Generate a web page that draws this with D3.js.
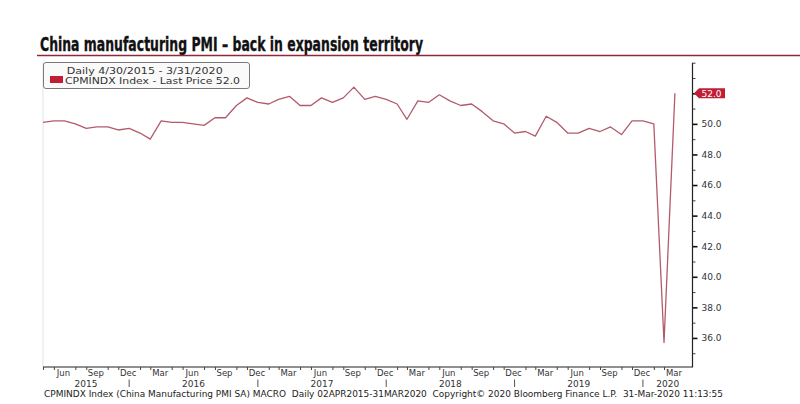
<!DOCTYPE html>
<html>
<head>
<meta charset="utf-8">
<script src="https://cdn.jsdelivr.net/npm/d3@7"></script>
<style>
  html, body { margin: 0; padding: 0; background: #ffffff; }
  svg { display: block; }
</style>
</head>
<body>
<script>
// ---------------- DATA ----------------
const title = "China manufacturing PMI \u2013 back in expansion territory";
const legendRange = "Daily 4/30/2015 - 3/31/2020";
const seriesName = "CPMINDX Index - Last Price 52.0";
const lastPriceLabel = "52.0";
const footerText = "CPMINDX Index (China Manufacturing PMI SA) MACRO  Daily 02APR2015-31MAR2020  Copyright\u00A9 2020 Bloomberg Finance L.P.  31-Mar-2020 11:13:55";

const dates = [
  "2015-04-30","2015-05-31","2015-06-30","2015-07-31","2015-08-31","2015-09-30","2015-10-31","2015-11-30","2015-12-31",
  "2016-01-31","2016-02-29","2016-03-31","2016-04-30","2016-05-31","2016-06-30","2016-07-31","2016-08-31","2016-09-30","2016-10-31","2016-11-30","2016-12-31",
  "2017-01-31","2017-02-28","2017-03-31","2017-04-30","2017-05-31","2017-06-30","2017-07-31","2017-08-31","2017-09-30","2017-10-31","2017-11-30","2017-12-31",
  "2018-01-31","2018-02-28","2018-03-31","2018-04-30","2018-05-31","2018-06-30","2018-07-31","2018-08-31","2018-09-30","2018-10-31","2018-11-30","2018-12-31",
  "2019-01-31","2019-02-28","2019-03-31","2019-04-30","2019-05-31","2019-06-30","2019-07-31","2019-08-31","2019-09-30","2019-10-31","2019-11-30","2019-12-31",
  "2020-01-31","2020-02-29","2020-03-31"
];
const pmi = [
  50.1, 50.2, 50.2, 50.0, 49.7, 49.8, 49.8, 49.6, 49.7,
  49.4, 49.0, 50.2, 50.1, 50.1, 50.0, 49.9, 50.4, 50.4, 51.2, 51.7, 51.4,
  51.3, 51.6, 51.8, 51.2, 51.2, 51.7, 51.4, 51.7, 52.4, 51.6, 51.8, 51.6,
  51.3, 50.3, 51.5, 51.4, 51.9, 51.5, 51.2, 51.3, 50.8, 50.2, 50.0, 49.4,
  49.5, 49.2, 50.5, 50.1, 49.4, 49.4, 49.7, 49.5, 49.8, 49.3, 50.2, 50.2,
  50.0, 35.7, 52.0
];
const quarterMonthLabels = {5: "Jun", 8: "Sep", 11: "Dec", 2: "Mar"};
const yearLabels = ["2015", "2016", "2017", "2018", "2019", "2020"];
const yMajorTicks = [36, 38, 40, 42, 44, 46, 48, 50, 52];
const yMinorTicks = [35, 37, 39, 41, 43, 45, 47, 49, 51, 53, 54];

// ---------------- LAYOUT ----------------
const W = 800, H = 404;
const plot = {left: 43, right: 692.5, top: 62.7, bottom: 367};
const lineColor = "#b35a6c";
const red = "#bf1e35";
const sansFont = "'DejaVu Sans', Verdana, sans-serif";

const parse = d3.timeParse("%Y-%m-%d");
const data = dates.map((d, i) => ({date: parse(d), value: pmi[i]}));

const svg = d3.select("body").append("svg").attr("width", W).attr("height", H);
svg.append("rect").attr("width", W).attr("height", H).attr("fill", "#fff");

const x = d3.scaleTime()
  .domain([parse("2015-04-30"), parse("2020-05-20")])
  .range([plot.left, plot.right]);
const y = d3.scaleLinear().domain([34.1, 54.0]).range([plot.bottom, plot.top]);

// Title
svg.append("text")
  .attr("x", 40).attr("y", 51)
  .attr("font-family", "'Liberation Sans Narrow', 'DejaVu Sans Condensed', 'Roboto Condensed', 'Liberation Sans', sans-serif")
  .attr("font-weight", "bold")
  .attr("font-size", 20)
  .attr("fill", "#111")
  .attr("stroke", "#111").attr("stroke-width", 0.35)
  .attr("textLength", 383)
  .attr("lengthAdjust", "spacingAndGlyphs")
  .text(title);
svg.append("line")
  .attr("x1", 37).attr("x2", 800).attr("y1", 55.5).attr("y2", 55.5)
  .attr("stroke", "#8e2a38").attr("stroke-width", 1.6);

// Left plot border (faint)
svg.append("line")
  .attr("x1", plot.left).attr("x2", plot.left)
  .attr("y1", plot.top).attr("y2", plot.bottom)
  .attr("stroke", "#e2e2e2").attr("stroke-width", 1);

// Line
const line = d3.line().x(d => x(d.date)).y(d => y(d.value));
svg.append("path")
  .datum(data)
  .attr("d", line)
  .attr("fill", "none")
  .attr("stroke", lineColor)
  .attr("stroke-width", 1.3)
  .attr("stroke-linejoin", "round");

// Y axis (right)
const yAxisG = svg.append("g").attr("transform", `translate(${plot.right},0)`);
yAxisG.call(d3.axisRight(y).tickValues(yMajorTicks).tickSize(5).tickFormat(d3.format(".1f")));
yAxisG.select(".domain").remove();
yAxisG.selectAll(".tick line").attr("stroke", "#111").attr("stroke-width", 1.6);
yAxisG.selectAll(".tick text")
  .attr("font-family", sansFont).attr("font-size", 9).attr("fill", "#333")
  .attr("x", 9);
const yMinorG = svg.append("g").attr("transform", `translate(${plot.right},0)`);
yMinorG.call(d3.axisRight(y).tickValues(yMinorTicks).tickSize(3).tickFormat(""));
yMinorG.select(".domain").remove();
yMinorG.selectAll(".tick line").attr("stroke", "#444").attr("stroke-width", 1);
svg.append("line")
  .attr("x1", plot.right).attr("x2", plot.right)
  .attr("y1", plot.top).attr("y2", plot.bottom)
  .attr("stroke", "#222").attr("stroke-width", 1.2);

// X axis
svg.append("line")
  .attr("x1", plot.left).attr("x2", plot.right + 0.6)
  .attr("y1", plot.bottom).attr("y2", plot.bottom)
  .attr("stroke", "#222").attr("stroke-width", 1.2);

const monthEnds = data.map(d => d.date);
const tickMonths = monthEnds.filter(d => !(d.getMonth() in quarterMonthLabels));
const xTickG = svg.append("g").attr("transform", `translate(0,${plot.bottom})`);
xTickG.call(d3.axisBottom(x).tickValues(tickMonths).tickSize(3).tickFormat(""));
xTickG.select(".domain").remove();
xTickG.selectAll(".tick line").attr("stroke", "#444").attr("stroke-width", 1);

const labelMonths = monthEnds.filter(d => d.getMonth() in quarterMonthLabels);
const xLabelG = svg.append("g").attr("transform", `translate(-1.5,${plot.bottom})`);
xLabelG.call(d3.axisBottom(x).tickValues(labelMonths).tickSize(0).tickPadding(2.5)
  .tickFormat(d => quarterMonthLabels[d.getMonth()]));
xLabelG.select(".domain").remove();
xLabelG.selectAll(".tick text")
  .attr("font-family", sansFont).attr("font-size", 8.5).attr("fill", "#333");

// Year labels & separators
const [d0, d1] = x.domain();
yearLabels.forEach(yr => {
  const ys = new Date(+yr, 0, 1), ye = new Date(+yr + 1, 0, 1);
  const a = x(ys < d0 ? d0 : d3.timeDay.offset(ys, -1));
  const b = x(ye > d1 ? d1 : d3.timeDay.offset(ye, -1));
  svg.append("text")
    .attr("x", (a + b) / 2).attr("y", 387)
    .attr("text-anchor", "middle")
    .attr("font-family", sansFont).attr("font-size", 9).attr("fill", "#333")
    .text(yr);
  if (ye < d1) {
    const xs = x(d3.timeDay.offset(ye, -1));
    svg.append("line")
      .attr("x1", xs).attr("x2", xs).attr("y1", 379.5).attr("y2", 387)
      .attr("stroke", "#555").attr("stroke-width", 1);
  }
});

// Footer
svg.append("text")
  .attr("x", 44).attr("y", 396.5)
  .attr("font-family", sansFont).attr("font-size", 8).attr("fill", "#222")
  .attr("textLength", 679).attr("lengthAdjust", "spacingAndGlyphs")
  .attr("xml:space", "preserve")
  .style("white-space", "pre")
  .text(footerText);

// Last price tag
const last = data[data.length - 1];
const ty = y(last.value);
const tx = plot.right + 1.5;
svg.append("path")
  .attr("d", `M${tx},${ty} L${tx + 5},${ty - 5} L${tx + 31},${ty - 5} L${tx + 31},${ty + 5} L${tx + 5},${ty + 5} Z`)
  .attr("fill", red);
svg.append("text")
  .attr("x", tx + 7.5).attr("y", ty + 3.3)
  .attr("font-family", sansFont).attr("font-size", 9).attr("fill", "#fff")
  .text(lastPriceLabel);

// Legend
const lg = svg.append("g");
lg.append("rect")
  .attr("x", 43.5).attr("y", 62.5).attr("width", 206).attr("height", 26)
  .attr("rx", 2.5).attr("ry", 2.5)
  .attr("fill", "#fafafa").attr("stroke", "#7a7a7a").attr("stroke-width", 1);
lg.append("text")
  .attr("x", 144.7).attr("y", 74)
  .attr("text-anchor", "middle")
  .attr("font-family", sansFont).attr("font-size", 9.5).attr("fill", "#333")
  .attr("textLength", 156).attr("lengthAdjust", "spacingAndGlyphs")
  .text(legendRange);
lg.append("rect")
  .attr("x", 50).attr("y", 76).attr("width", 13).attr("height", 7)
  .attr("fill", red);
lg.append("text")
  .attr("x", 65).attr("y", 83.5)
  .attr("font-family", sansFont).attr("font-size", 9.5).attr("fill", "#333")
  .attr("textLength", 175).attr("lengthAdjust", "spacingAndGlyphs")
  .text(seriesName);
</script>
</body>
</html>
